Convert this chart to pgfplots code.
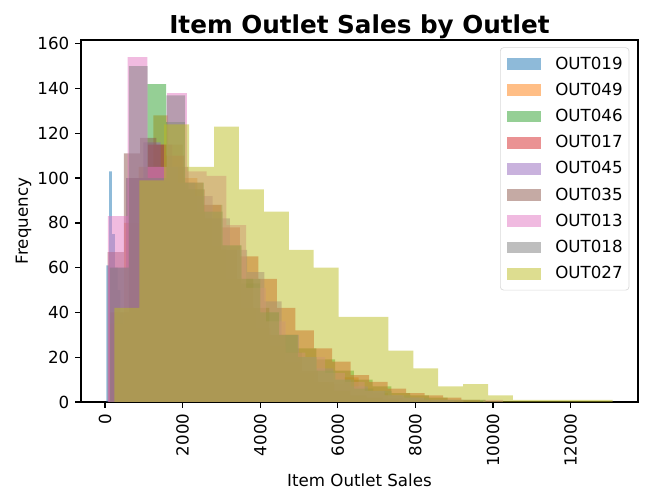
\documentclass[border=0pt]{standalone}
\usepackage{fontspec}
\setmainfont{DejaVu Sans}
\usepackage{pgfplots}
\pgfplotsset{compat=1.18}

% matplotlib tab10 colours
\definecolor{c019}{HTML}{1F77B4}
\definecolor{c049}{HTML}{FF7F0E}
\definecolor{c046}{HTML}{2CA02C}
\definecolor{c017}{HTML}{D62728}
\definecolor{c045}{HTML}{9467BD}
\definecolor{c035}{HTML}{8C564B}
\definecolor{c013}{HTML}{E377C2}
\definecolor{c018}{HTML}{7F7F7F}
\definecolor{c027}{HTML}{BCBD22}

\pgfplotsset{
  hist/.style={ybar interval, fill=#1, fill opacity=0.5, draw=none},
}

\begin{document}
\begin{tikzpicture}
\useasboundingbox (0,0) rectangle (390pt,301.8pt);
\begin{axis}[
    at={(48.6pt,60.6pt)}, anchor=south west,
    scale only axis, width=334.2pt, height=217.2pt,
    xmin=-620, xmax=13739, ymin=0, ymax=161.7,
    xtick={0,2000,4000,6000,8000,10000,12000},
    ytick={0,20,40,60,80,100,120,140,160},
    scaled ticks=false,
    /pgf/number format/1000 sep={},
    /pgf/number format/assume math mode=true,
    xticklabel style={rotate=90, anchor=east},
    tick align=outside, xtick pos=left, ytick pos=left,
    major tick length=3.5pt,
    major tick style={black, line width=0.8pt},
    axis line style={line width=0.8pt},
    tick label style={font=\fontsize{10}{12}\selectfont},
    every axis title shift=0pt,
    title={\textbf{Item Outlet Sales by Outlet}},
    title style={font=\fontsize{14.8}{17}\selectfont, anchor=base, at={(axis description cs:0.5,1.0175)}},
    xlabel={Item Outlet Sales},
    xlabel style={font=\fontsize{10}{12}\selectfont, anchor=base, at={(axis description cs:0.5,-0.2348)}},
    ylabel={Frequency},
    ylabel style={font=\fontsize{10}{12}\selectfont, anchor=base, at={(axis description cs:-0.0952,0.5)}},
    legend image code/.code={\fill[#1, sharp corners] (0pt,-3.5pt) rectangle (20.4pt,3.5pt);},
    legend cell align=left,
    legend style={at={(0.9844,0.9798)}, anchor=north east, draw=black!15,
        rounded corners=2pt, font=\fontsize{10}{12}\selectfont,
        row sep=6.8pt, column sep=8.8pt, inner xsep=3.8pt, inner ysep=5.4pt,
        nodes={inner sep=0pt}},
]
% OUT019
\addplot[hist=c019] coordinates {
(33,61) (105.4,103) (177.8,75) (250.2,60) (322.6,50) (395,40) (467.4,30) (539.8,25)
(612.2,20) (684.6,15) (757,12) (829.4,10) (901.8,8) (974.2,5) (1046.6,5) (1119,3)
(1191.4,2) (1263.8,2) (1336.2,1) (1408.6,1) (1481,1)};
\addlegendentry{OUT019}
% OUT049
\addplot[hist=c049] coordinates {
(112,35) (490,80) (868,105) (1246,128) (1624,115) (2002,100) (2380,85) (2758,70)
(3136,55) (3514,42) (3892,33) (4270,25) (4648,18) (5026,13) (5404,9) (5782,8)
(6160,11) (6538,6) (6916,4) (7294,2) (7672,2)};
\addlegendentry{OUT049}
% OUT046
\addplot[hist=c046] coordinates {
(122,40) (606,100) (1090,142) (1574,125) (2058,95) (2542,88) (3026,70) (3510,53)
(3994,40) (4478,30) (4962,24) (5446,19) (5930,14) (6414,10) (6898,7) (7382,4)
(7866,3) (8350,2) (8834,1) (9318,1) (9802,1)};
\addlegendentry{OUT046}
% OUT017
\addplot[hist=c017] coordinates {
(144,40) (620,100) (1096,115) (1572,110) (2048,98) (2524,88) (3000,78) (3476,65)
(3952,55) (4428,42) (4904,32) (5380,24) (5856,18) (6332,12) (6808,9) (7284,6)
(7760,4) (8236,3) (8712,2) (9188,1) (9664,1)};
\addlegendentry{OUT017}
% OUT045
\addplot[hist=c045] coordinates {
(100,60) (545,100) (990,116) (1435,105) (1880,98) (2325,92) (2770,82) (3215,68)
(3660,58) (4105,45) (4550,30) (4995,20) (5440,15) (5885,10) (6330,7) (6775,5)
(7220,3) (7665,2) (8110,1) (8555,1) (9000,1)};
\addlegendentry{OUT045}
% OUT035
\addplot[hist=c035] coordinates {
(69,67) (486,111) (903,118) (1320,115) (1737,105) (2154,95) (2571,82) (2988,68)
(3405,55) (3822,42) (4239,30) (4656,22) (5073,14) (5490,9) (5907,5) (6324,3)
(6741,2) (7158,1) (7575,0) (7992,1) (8409,1)};
\addlegendentry{OUT035}
% OUT013
\addplot[hist=c013] coordinates {
(73,83) (582,154) (1091,105) (1600,138) (2109,103) (2618,101) (3127,79) (3636,51)
(4145,36) (4654,22) (5163,20) (5672,13) (6181,9) (6690,5) (7199,3) (7708,2)
(8217,1) (8726,1) (9235,0) (9744,1) (10253,1)};
\addlegendentry{OUT013}
% OUT018
\addplot[hist=c018] coordinates {
(130,60) (614,150) (1098,100) (1582,137) (2066,98) (2550,85) (3034,70) (3518,55)
(4002,40) (4486,30) (4970,20) (5454,14) (5938,10) (6422,6) (6906,5) (7390,3)
(7874,2) (8358,1) (8842,1) (9326,1) (9810,1)};
\addlegendentry{OUT018}
% OUT027
\addplot[hist=c027] coordinates {
(242,42) (884,99) (1526,124) (2168,105) (2810,123) (3453,95) (4095,85) (4737,68)
(5379,60) (6021,38) (6663,38) (7305,23) (7947,15) (8589,7) (9231,8) (9874,3)
(10516,1) (11158,1) (11800,1) (12442,1) (13084,1)};
\addlegendentry{OUT027}
\end{axis}
\end{tikzpicture}
\end{document}
